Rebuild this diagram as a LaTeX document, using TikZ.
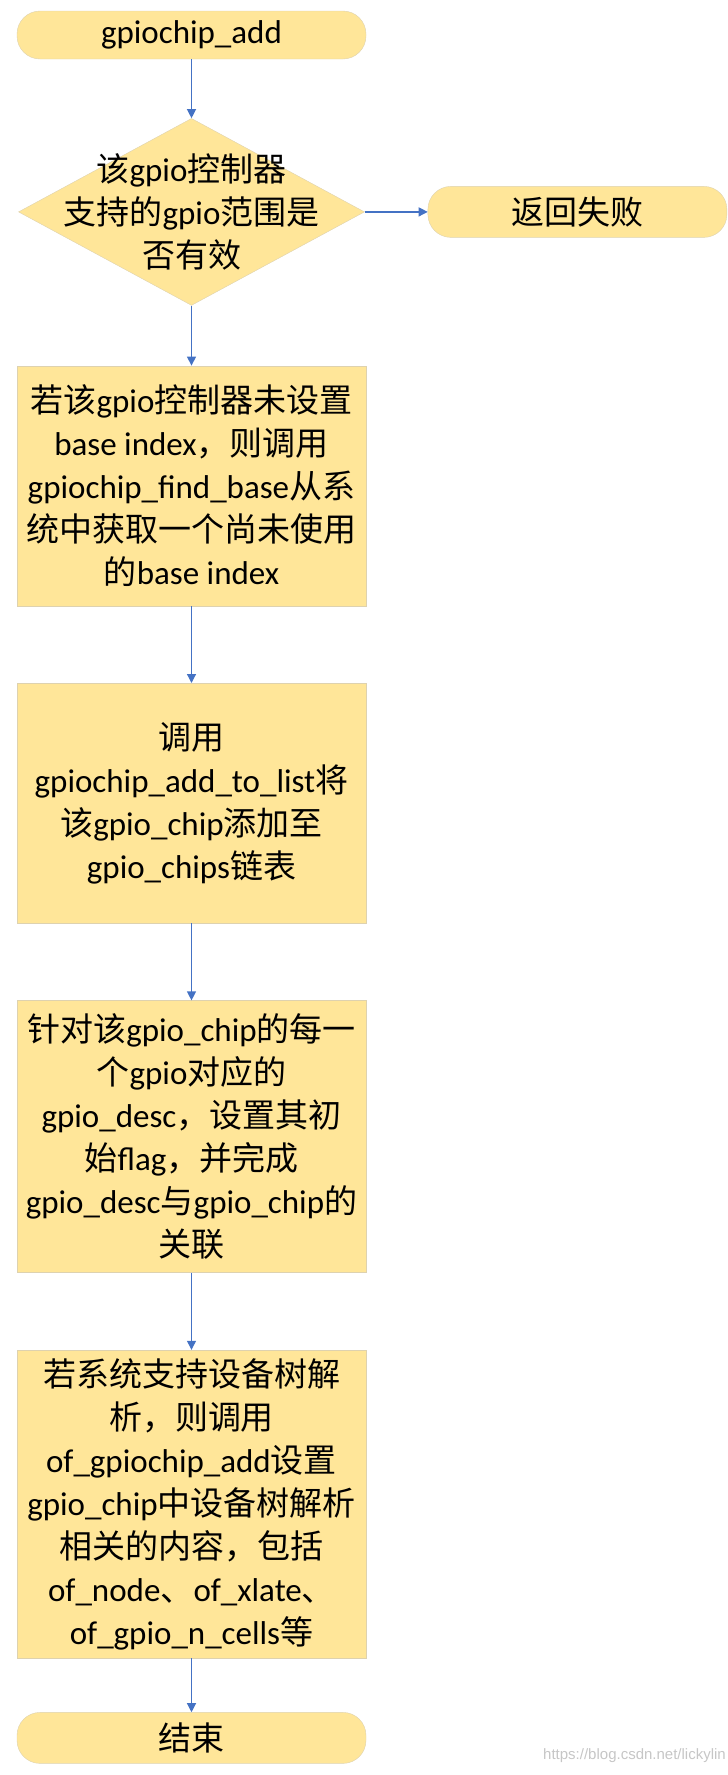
\documentclass[tikz,border=0pt]{standalone}
\usepackage{fontspec}
\setmainfont{Carlito}
\newfontfamily\cjkfont{Noto Sans CJK SC}
\newfontfamily\urlfont{Liberation Sans}
\usepackage{xcolor}
\usetikzlibrary{arrows.meta,shapes.geometric,positioning}
\definecolor{flowfill}{RGB}{255,230,153}
\definecolor{flowline}{RGB}{222,210,175}
\definecolor{linkblue}{RGB}{68,114,196}
\newcommand{\zh}[1]{{\cjkfont #1}}

\begin{document}
\begin{tikzpicture}[
    x=1pt, y=1pt,
    node distance=77pt,
    term/.style={rectangle, draw=flowline, fill=flowfill, rounded corners=23pt, minimum width=349pt, minimum height=48pt, font=\fontsize{33}{43}\selectfont},
    proc/.style={rectangle, draw=flowline, fill=flowfill, minimum width=349pt, inner sep=2pt, align=center, font=\fontsize{33}{43}\selectfont},
    decision/.style={diamond, draw=flowline, fill=flowfill, minimum width=346pt, minimum height=187pt, inner xsep=-70pt, inner ysep=-45pt, align=center, font=\fontsize{33}{43}\selectfont},
    arrow/.style={-{Triangle[length=9pt,width=9pt]}, draw=linkblue, line width=1.2pt}
]
    \useasboundingbox (0,0) rectangle (728,-1775);
    \node[term] (start) at (191.5,-35) {gpiochip\_add};
    \node[decision, below=59pt of start] (check) {\zh{该}gpio\zh{控制器}\\\zh{支持的}gpio\zh{范围是}\\\zh{否有效}};
    \node[term, right=63pt of check, minimum width=299pt, minimum height=51pt] (fail) {\zh{返回失败}};
    \node[proc, below=60pt of check, minimum height=240pt] (findbase) {\zh{若该}gpio\zh{控制器未设置}\\base index\zh{，则调用}\\gpiochip\_find\_base\zh{从系}\\\zh{统中获取一个尚未使用}\\\zh{的}base index};
    \node[proc, below=of findbase, minimum height=240pt] (addlist) {\zh{调用}\\gpiochip\_add\_to\_list\zh{将}\\\zh{该}gpio\_chip\zh{添加至}\\gpio\_chips\zh{链表}};
    \node[proc, below=of addlist, minimum height=272pt] (initdesc) {\zh{针对该}gpio\_chip\zh{的每一}\\\zh{个}gpio\zh{对应的}\\gpio\_desc\zh{，设置其初}\\\zh{始}flag\zh{，并完成}\\gpio\_desc\zh{与}gpio\_chip\zh{的}\\\zh{关联}};
    \node[proc, below=of initdesc, minimum height=308pt] (ofadd) {\zh{若系统支持设备树解}\\\zh{析，则调用}\\of\_gpiochip\_add\zh{设置}\\gpio\_chip\zh{中设备树解析}\\\zh{相关的内容，包括}\\of\_node\zh{、}of\_xlate\zh{、}\\of\_gpio\_n\_cells\zh{等}};
    \node[term, below=54pt of ofadd, minimum height=51pt] (finish) {\zh{结束}};
    \node[font=\urlfont\fontsize{15}{15}\selectfont, text=gray!45, anchor=south east, inner sep=0pt] (mark) at (726,-1763) {https://blog.csdn.net/lickylin};

    \draw[arrow] (start) -- (check);
    \draw[arrow] (check) -- (fail);
    \draw[arrow] (check) -- (findbase);
    \draw[arrow] (findbase) -- (addlist);
    \draw[arrow] (addlist) -- (initdesc);
    \draw[arrow] (initdesc) -- (ofadd);
    \draw[arrow] (ofadd) -- (finish);
\end{tikzpicture}
\end{document}
